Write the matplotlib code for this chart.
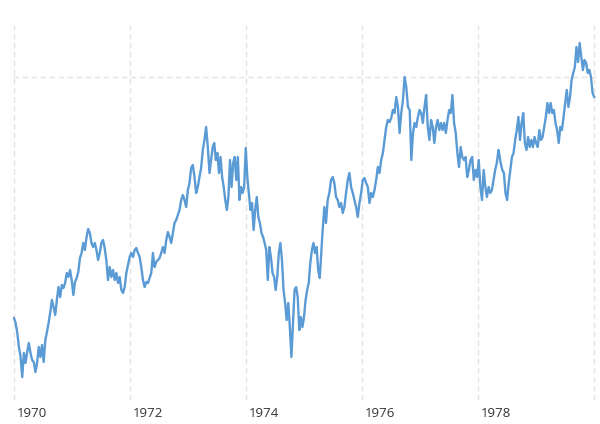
import numpy as np
import matplotlib
matplotlib.use('Agg')
import matplotlib.pyplot as plt
import matplotlib.transforms as mtransforms

# values, split into stretches with their start / end (decimal years)
seg_a_span = (1970.00, 1971.62)
seg_a = [759, 754, 744, 730, 720, 700, 724, 714, 725, 734, 724, 717, 715, 705, 714, 730,
         720, 732, 715, 737, 745, 754, 765, 777, 770, 762, 777, 790, 780, 792, 789, 794,
         804, 800, 807, 797, 782, 795, 799, 805, 819, 824, 834, 827, 840, 848, 844, 834,
         830, 834, 827, 817, 824, 834, 837, 829, 817, 797]

seg_b_span = (1971.65, 1973.34)
seg_b = [810, 800, 807, 797, 804, 794, 800, 787, 784, 790, 804, 812, 820, 824, 820, 827,
         829, 824, 820, 810, 797, 790, 795, 794, 799, 804, 824, 810, 815, 817, 819, 824,
         830, 824, 837, 845, 840, 834, 844, 854, 857, 862, 867, 877, 882, 877, 870, 887,
         894, 909, 912, 900, 884, 890, 900, 909, 927, 937, 950, 930]

seg_c_span = (1973.37, 1975.27)
seg_c = [904, 917, 930, 934, 917, 924, 904, 920, 900, 890, 877, 867, 880, 917, 890, 914,
         920, 897, 920, 877, 890, 884, 890, 929, 900, 884, 867, 874, 847, 867, 880, 860,
         854, 844, 840, 834, 827, 797, 830, 820, 804, 800, 787, 800, 824, 834, 817, 787,
         774, 757, 774, 750, 720, 754, 787, 790, 780, 747, 760, 750, 760, 777, 787, 794,
         814, 827, 834, 824, 830, 807, 799]

seg_d_span = (1975.32, 1976.79)
seg_d = [847, 870, 854, 877, 884, 897, 900, 894, 880, 877, 870, 874, 864, 870, 884, 897,
         904, 890, 884, 877, 870, 860, 874, 884, 897, 899, 894, 890, 874, 884, 880, 887,
         897, 910, 904, 917, 924, 937, 950, 957, 955, 959, 967, 964, 980, 970, 944, 964,
         977, 1000, 990, 970]

seg_e_span = (1976.82, 1978.35)
seg_e = [967, 917, 944, 954, 950, 960, 967, 964, 954, 970, 982, 950, 937, 957, 950, 934,
         950, 957, 947, 954, 947, 954, 944, 957, 967, 964, 982, 954, 944, 924, 910, 930,
         920, 917, 920, 900, 907, 917, 920, 897, 907, 900, 917, 890, 877, 907, 890, 880,
         890, 884, 887, 897, 907, 914, 927]

seg_f_span = (1978.36, 1980.00)
seg_f = [924, 914, 907, 904, 884, 877, 894, 907, 920, 924, 937, 947, 960, 937, 954, 964,
         934, 927, 940, 930, 937, 930, 940, 934, 930, 947, 937, 940, 950, 960, 974, 964,
         974, 964, 967, 954, 947, 934, 950, 947, 960, 974, 987, 970, 980, 997, 1004, 1010,
         1030, 1015, 1034, 1020, 1007, 1017, 1014, 1004, 1007, 1000, 984, 980]

tick_years = [1970, 1972, 1974, 1976, 1978, 1980]
tick_labels = ['1970', '1972', '1974', '1976', '1978', '']
ref_level = 1000

segments = [(seg_a_span, seg_a), (seg_b_span, seg_b), (seg_c_span, seg_c),
            (seg_d_span, seg_d), (seg_e_span, seg_e), (seg_f_span, seg_f)]
xs, ys = [], []
for (t0, t1), vals in segments:
    xs.append(np.linspace(t0, t1, len(vals)))
    ys.append(np.array(vals, dtype=float))
x = np.concatenate(xs)
y = np.concatenate(ys)

fig = plt.figure(figsize=(6, 4.24), dpi=100)
ax = fig.add_axes([13/600, 24/424, 587/600, 375/424])

ax.plot(x, y, color='#5b9bd5', lw=1.7, solid_joinstyle='round', zorder=3)

ax.set_xlim(1969.983, 1980.10)
ax.set_ylim(677, 1052)
ax.set_xticks(tick_years)
ax.set_xticklabels(tick_labels, fontsize=9.5, color='#333333', family=['Open Sans', 'DejaVu Sans'])
ax.set_yticks([ref_level])
ax.set_yticklabels([])
ax.tick_params(axis='both', length=0, pad=5)
ax.grid(True, color='#e4e4e4', lw=1, ls=(0, (4, 2.5)), zorder=0)
for s in ax.spines.values():
    s.set_visible(False)

# labels sit just right of their gridline
offset = mtransforms.ScaledTranslation(3/100, 0, fig.dpi_scale_trans)
for lbl in ax.get_xticklabels():
    lbl.set_horizontalalignment('left')
    lbl.set_transform(lbl.get_transform() + offset)

fig.savefig('out.png', dpi=100)
